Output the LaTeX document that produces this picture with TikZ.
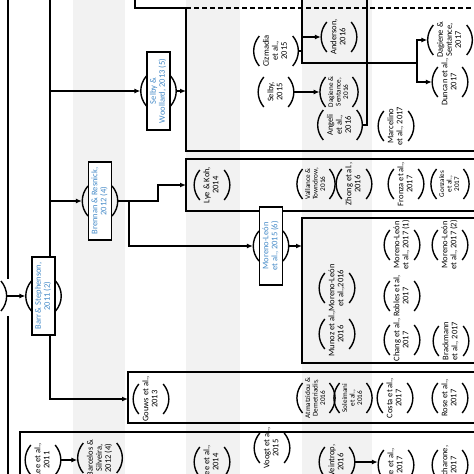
\documentclass[tikz,border=0pt]{standalone}
\usepackage{fontspec}
\setmainfont{Carlito}
\usepackage{graphicx}
\usetikzlibrary{arrows.meta}
\definecolor{keyblue}{RGB}{68,138,200}
\definecolor{band}{RGB}{242,242,242}
\newcommand{\vtext}[1]{\rotatebox{90}{\begin{tabular}{@{}c@{}}#1\end{tabular}}}

\begin{document}
\begin{tikzpicture}[x=1pt,y=-1pt,
		line/.style={line width=1.3pt},
		arr/.style={line width=1.3pt,-{Latex[length=6pt,width=5pt]}},
		frame/.style={line width=1.3pt},
		parenline/.style={draw=black,fill=none,line width=1.4pt},
		parens/.style={append after command={
					([yshift=15pt]\tikzlastnode.west) edge[parenline,bend right=40] ([yshift=-15pt]\tikzlastnode.west)
					([yshift=15pt]\tikzlastnode.east) edge[parenline,bend left=40] ([yshift=-15pt]\tikzlastnode.east)}},
		paper/.style={parens,inner xsep=3pt,inner ysep=0pt,font=\fontsize{8.5}{9}\selectfont},
		small/.style={inner xsep=2pt,font=\fontsize{7.2}{7.5}\selectfont},
		key/.style={parens,draw,line width=1.2pt,fill=white,minimum width=23pt,minimum height=78pt,
				inner sep=1pt,text=keyblue,font=\fontsize{8.5}{9}\selectfont}
	]
	\useasboundingbox (0,0) rectangle (474,474);
	\clip (0,0) rectangle (474,474);
	% year bands
	\foreach \a/\b in {73/125,186/240,302/372}
	\fill[band] (\a,0) rectangle (\b,474);

	% group frames
	\coordinate (grpA) at (186,8);
	\coordinate (grpB) at (186,159);
	\coordinate (grpC) at (302,218);
	\coordinate (grpD) at (128,372);
	\coordinate (grpE) at (20,432);
	\draw[frame,dash pattern=on 5pt off 3pt] (grpA) -- (500,8);
	\draw[frame] (grpA) |- (500,151);
	\draw[frame] (grpB) rectangle (500,211);
	\draw[frame] (grpC) rectangle (500,363);
	\draw[frame] (grpD) rectangle (500,423);
	\draw[frame] (grpE) rectangle (500,500);

	% key papers
	\node[key] (barr) at (43.5,296) {\vtext{Barr \& Stephenson,\\2011 (2)}};
	\node[key] (brennan) at (100,201) {\vtext{Brennan \& Resnick,\\2012 (4)}};
	\node[key] (selbyw) at (158.5,91) {\vtext{Selby \&\\Woollard, 2013 (5)}};
	\node[key] (morenoA) at (271,246) {\vtext{Moreno-León\\et al., 2015 (6)}};

	% group 1
	\node[paper] (cizmadia) at (276,51) {\vtext{Cizmadia\\et al.,\\2015}};
	\node[paper] (selby) at (276,92) {\vtext{Selby,\\2015}};
	\node[paper] (anderson) at (339,37) {\vtext{Anderson,\\2016}};
	\node[paper,small] (dagieneA) at (339,92) {\vtext{Dagiene \&\\Sentance,\\2016}};
	\node[paper] (angeli) at (340,125) {\vtext{Angeli\\et al.,\\2016}};
	\node[paper] (marcelino) at (396,126) {\vtext{Marcelino\\et al., 2017}};
	\node[paper] (dagieneB) at (450,40) {\vtext{Dagiene \&\\Sentance,\\2017}};
	\node[paper] (duncan) at (450,82) {\vtext{Duncan et al.,\\2017}};

	% group 2
	\node[paper] (lye) at (212,185) {\vtext{Lye \& Koh,\\2014}};
	\node[paper,small] (vallance) at (316,184) {\vtext{Vallance \&\\Towndrow,\\2016}};
	\node[paper] (zhong) at (354,184) {\vtext{Zhong et al.,\\2016}};
	\node[paper] (fronza) at (406,184) {\vtext{Fronza et al.,\\2017}};
	\node[paper,small] (gonzales) at (450,184) {\vtext{Gonzales\\et al.,\\2017}};

	% group 3
	\node[paper] (morenoB) at (337,288) {\vtext{Moreno-León\\et al.,2016}};
	\node[paper] (munoz) at (337,334) {\vtext{Munoz et al.,\\2016}};
	\node[paper] (morenoC) at (402,245) {\vtext{Moreno-León\\et al., 2017 (1)}};
	\node[paper] (robles) at (402,296) {\vtext{Robles et al,\\2017}};
	\node[paper] (chang) at (402,340) {\vtext{Chang et al.,\\2017}};
	\node[paper] (morenoD) at (450,245) {\vtext{Moreno-León\\et al., 2017 (2)}};
	\node[paper] (brackmann) at (451,341) {\vtext{Brackmann\\et al., 2017}};

	% group 4
	\node[paper] (gouws) at (151,399) {\vtext{Gouws et al.,\\2013}};
	\node[paper,small] (atmatzidou) at (316,398) {\vtext{Atmatzidou \&\\Demetriadis,\\2016}};
	\node[paper,small] (soleimani) at (353,398) {\vtext{Soleimani\\et al.,\\2016}};
	\node[paper] (costa) at (395,398) {\vtext{Costa et al.,\\2017}};
	\node[paper] (rose) at (450,398) {\vtext{Rose et al.,\\2017}};

	% group 5
	\node[paper] (lee) at (43,460) {\vtext{Lee et al.,\\2011}};
	\node[paper] (barcelos) at (100,458) {\vtext{Barcelos \&\\Silveira,\\2012 (4)}};
	\node[paper] (leeB) at (212,462) {\vtext{Lee et al.,\\2014}};
	\node[paper] (voogt) at (272,448) {\vtext{Voogt et al.,\\2015}};
	\node[paper] (weintrop) at (337,462) {\vtext{Weintrop,\\2016}};
	\node[paper] (ute) at (396,465) {\vtext{ute et al.,\\2017}};
	\node[paper] (ngch) at (450,465) {\vtext{ngcharone,\\2017}};

	% trunk on the left
	\coordinate (root) at (1,296);
	\draw[parenline] ([yshift=15pt]root) to[bend left=40] ([yshift=-15pt]root);
	\draw[line] (8,0) -- (8,279);
	\draw[line] (8,316) -- (8,474);
	\draw[arr] ([xshift=6pt]root) -- ([xshift=-6pt]barr.west);

	% from Barr & Stephenson
	\coordinate (top50) at (50,-5);
	\draw[line] (top50) -- ([xshift=6.5pt]barr.north);
	\draw[arr] (top50 |- brennan) -- ([xshift=-6pt]brennan.west);
	\draw[arr] (top50 |- selbyw) -- ([xshift=-6pt]selbyw.west);
	\draw[arr] ([xshift=6.5pt]barr.south) |- (gouws -| grpD);
	\draw[arr] ([xshift=6pt]selbyw.east) -- (selbyw.east -| grpA);
	\draw[line] (135,-5) |- (grpA);

	% from Brennan & Resnick
	\draw[arr] ([xshift=6pt]brennan.east) -| (158,185) -- (grpB |- lye);
	\draw[arr] (129,201) |- ([xshift=-6pt]morenoA.west);
	\draw[arr] ([xshift=6pt]morenoA.east) -- (morenoA.east -| grpC);

	% inside group 1
	\coordinate (jc) at (302,-5);
	\coordinate (jd) at (417,63);
	\draw[line] (jc) |- (jd);
	\draw[line] ([xshift=6pt]cizmadia.east) -- (cizmadia.east -| jc);
	\draw[arr] (jc |- anderson) -- ([xshift=-6pt]anderson.west);
	\draw[arr] (jd) |- ([xshift=-6pt]dagieneB.west);
	\draw[arr] (jd) |- ([xshift=-6pt]duncan.west);
	\draw[arr] ([xshift=6pt]selby.east) -- ([xshift=-6pt]dagieneA.west);
	\draw[line] ([xshift=6pt]angeli.east) -| (367,-5);

	% inside group 5
	\draw[arr] ([xshift=6pt]lee.east) -- ([xshift=-6pt]lee.east -| barcelos.west);
	\draw[arr] ([xshift=6pt]weintrop.east) -- ([xshift=-6pt]weintrop.east -| ute.west);
\end{tikzpicture}
\end{document}
